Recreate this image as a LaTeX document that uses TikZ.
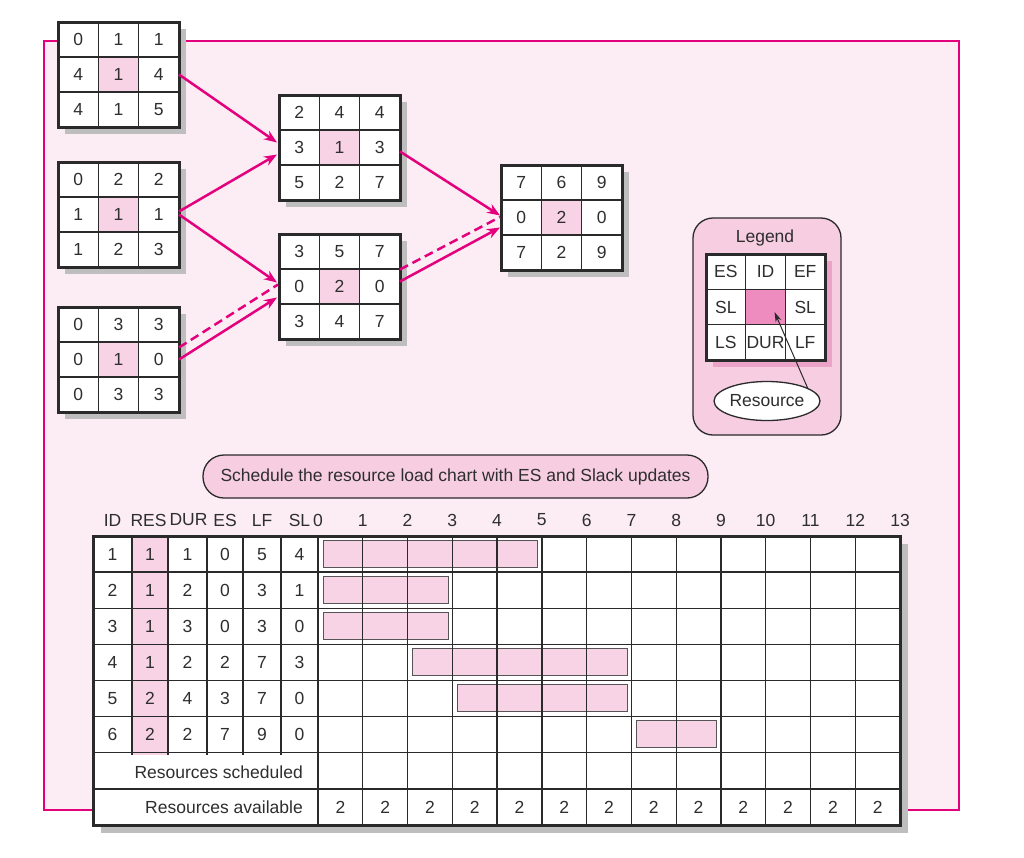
\documentclass[tikz,border=0pt]{standalone}
\usepackage{fontspec}
\setmainfont{Liberation Sans}
\usetikzlibrary{arrows.meta,calc,shapes.geometric}
\definecolor{mag}{HTML}{E4007C}
\definecolor{bgpink}{HTML}{FCEDF5}
\definecolor{cellpink}{HTML}{F8D2E5}
\definecolor{legpink}{HTML}{F6CDE1}
\definecolor{legcenter}{HTML}{EE8CBF}
\definecolor{legshadow}{HTML}{EBA3C8}
\definecolor{shadegray}{HTML}{BEBEBE}
\definecolor{ink}{HTML}{2E2E2E}
\definecolor{linec}{HTML}{2A2A2A}
\tikzset{
 txt/.style={font=\fontsize{17.5}{20}\selectfont, text=ink, inner sep=0pt},
 gridl/.style={draw=linec, line width=1.3pt},
 boxframe/.style={draw=linec, line width=3pt, anchor=north west, outer sep=0pt, inner sep=0pt},
 link/.style={draw=mag, line width=2.5pt, -{Stealth[length=13pt,width=10pt]}},
 crit/.style={draw=mag, line width=2.5pt, dash pattern=on 9pt off 5pt},
 ganttbar/.style={fill=cellpink, draw=linec!80, line width=1pt},
 softbox/.style={draw=linec, line width=1.3pt, fill=legpink},
}
% activity box: name, top-left, row1, row2, row3
\newcommand{\actbox}[5]{%
\begin{scope}[shift={(#2)}]
 \fill[shadegray] (7,7) rectangle (128,112);
 \fill[white] (0,0) rectangle (121,105);
 \fill[cellpink] (40.33,35) rectangle (80.67,70);
 \draw[gridl] (40.33,0) -- (40.33,105) (80.67,0) -- (80.67,105) (0,35) -- (121,35) (0,70) -- (121,70);
 \node[boxframe, minimum width=121pt, minimum height=105pt] (#1) at (0,0) {};
 \foreach \v [count=\i] in {#3} \node[txt] (#1-a\i) at (\i*40.33-20.17,17.5) {\v};
 \foreach \v [count=\i] in {#4} \node[txt] (#1-b\i) at (\i*40.33-20.17,52.5) {\v};
 \foreach \v [count=\i] in {#5} \node[txt] (#1-c\i) at (\i*40.33-20.17,87.5) {\v};
\end{scope}}
% table row: row number, six values
\newcommand{\trow}[7]{%
 \pgfmathsetmacro{\ty}{536+(#1-0.5)*36.125}
 \node[txt] (c#1-1) at (112.5,\ty) {#2};
 \node[txt] (c#1-2) at (150,\ty) {#3};
 \node[txt] (c#1-3) at (187.5,\ty) {#4};
 \node[txt] (c#1-4) at (225,\ty) {#5};
 \node[txt] (c#1-5) at (262,\ty) {#6};
 \node[txt] (c#1-6) at (299.5,\ty) {#7};}
% gantt bar: row, start, end
\newcommand{\gbar}[3]{%
 \draw[ganttbar] ({318+#2*44.77+5},{536+(#1-1)*36.125+4}) rectangle ({318+#3*44.77-4},{536+#1*36.125-5});}
\begin{document}
\begin{tikzpicture}[x=1pt,y=-1pt]
\useasboundingbox (0,0) rectangle (1024,857);
\fill[white] (0,0) rectangle (1024,857);
\draw[mag, fill=bgpink, line width=2.5pt] (44,41) rectangle (959,810);

% network
\actbox{n1}{58,22}{0,1,1}{4,1,4}{4,1,5}
\actbox{n2}{58,162}{0,2,2}{1,1,1}{1,2,3}
\actbox{n3}{58,307}{0,3,3}{0,1,0}{0,3,3}
\actbox{n4}{279,95}{2,4,4}{3,1,3}{5,2,7}
\actbox{n5}{279,234}{3,5,7}{0,2,0}{3,4,7}
\actbox{n6}{501,165}{7,6,9}{0,2,0}{7,2,9}

\draw[link] (n1.east) -- ($(n4.west)+(-2,-5)$);
\draw[link] ($(n2.east)+(0,-3)$) -- ($(n4.west)+(-2,7)$);
\draw[link] (n2.east) -- ($(n5.west)+(-2,-4)$);
\draw[crit] ($(n3.east)+(0,-12)$) -- ($(n5.west)+(-1,-2)$);
\draw[link] (n3.east) -- ($(n5.west)+(-2,11)$);
\draw[link] ($(n4.east)+(0,4)$) -- ($(n6.west)+(-1,-2)$);
\draw[crit] ($(n5.east)+(0,-17)$) -- ($(n6.west)+(-1,-0.5)$);
\draw[link] ($(n5.east)+(0,-5)$) -- ($(n6.west)+(-1,10)$);

% legend
\node[softbox, rounded corners=20pt, minimum width=148pt, minimum height=217pt, anchor=north west, outer sep=0pt] (legend) at (693,218) {};
\node[txt] (legt) at (765,238) {Legend};
\begin{scope}[shift={(706,254)}]
 \fill[legshadow] (7,7) rectangle (126,113);
 \fill[white] (0,0) rectangle (119,106);
 \fill[legcenter] (39.67,35.33) rectangle (79.33,70.67);
 \draw[gridl] (39.67,0) -- (39.67,106) (79.33,0) -- (79.33,106) (0,35.33) -- (119,35.33) (0,70.67) -- (119,70.67);
 \node[boxframe, minimum width=119pt, minimum height=106pt] (lgbox) at (0,0) {};
 \node[txt] (lg-11) at (19.8,17.7) {ES};
 \node[txt] (lg-12) at (59.5,17.7) {ID};
 \node[txt] (lg-13) at (99.2,17.7) {EF};
 \node[txt] (lg-21) at (19.8,53) {SL};
 \coordinate (lg-22) at (59.5,53);
 \node[txt] (lg-23) at (99.2,53) {SL};
 \node[txt] (lg-31) at (19.8,88.3) {LS};
 \node[txt] (lg-32) at (59.5,88.3) {DUR};
 \node[txt] (lg-33) at (99.2,88.3) {LF};
\end{scope}
\node[ellipse, draw=linec, line width=1.3pt, fill=white, minimum width=97pt, minimum height=39pt, txt] (res) at (767,401) {Resource};
\draw[linec, line width=1pt, -{Stealth[length=10pt,width=6pt]}] (res.18) -- ($(lg-22)+(9,5)$);

% title callout
\node[softbox, rounded corners=21pt, minimum width=505pt, minimum height=43pt, txt] (title) at (455.5,476.5) {Schedule the resource load chart with ES and Slack updates};

% table headers
\foreach \t/\x in {ID/112.5, RES/148.5, DUR/188.5, ES/225, LF/262, SL/299.5}
 \node[txt] (h-\t) at (\x,520) {\t};
\foreach \c in {0,...,13}
 \node[txt] (t\c) at ({318+\c*44.77},520) {\c};

% table body
\fill[shadegray] (101,544) rectangle (908,833);
\fill[white] (93,536) rectangle (900,825);
\fill[cellpink] (132,536) rectangle (168,755);
\gbar{1}{0}{5}
\gbar{2}{0}{3}
\gbar{3}{0}{3}
\gbar{4}{2}{7}
\gbar{5}{3}{7}
\gbar{6}{7}{9}
\foreach \r in {1,...,7}
 \draw[gridl] (93,{536+\r*36.125}) -- (900,{536+\r*36.125});
\foreach \x in {132,168,207,243,281}
 \draw[gridl] (\x,536) -- (\x,755);
\foreach \c in {1,...,12}
 \draw[gridl] ({318+\c*44.77},536) -- ({318+\c*44.77},825);
\draw[draw=linec, line width=2.5pt] (318,536) -- (318,825);
\node[boxframe, minimum width=807pt, minimum height=289pt] (tbl) at (93,536) {};

\trow{1}{1}{1}{1}{0}{5}{4}
\trow{2}{2}{1}{2}{0}{3}{1}
\trow{3}{3}{1}{3}{0}{3}{0}
\trow{4}{4}{1}{2}{2}{7}{3}
\trow{5}{5}{2}{4}{3}{7}{0}
\trow{6}{6}{2}{2}{7}{9}{0}
\node[txt, anchor=east] (rsched) at (303,772.5) {Resources scheduled};
\node[txt, anchor=east] (ravail) at (303,807.5) {Resources available};
\foreach \c in {0,...,12}
 \node[txt] (av\c) at ({318+(\c+0.5)*44.77},807.5) {2};
\end{tikzpicture}
\end{document}
